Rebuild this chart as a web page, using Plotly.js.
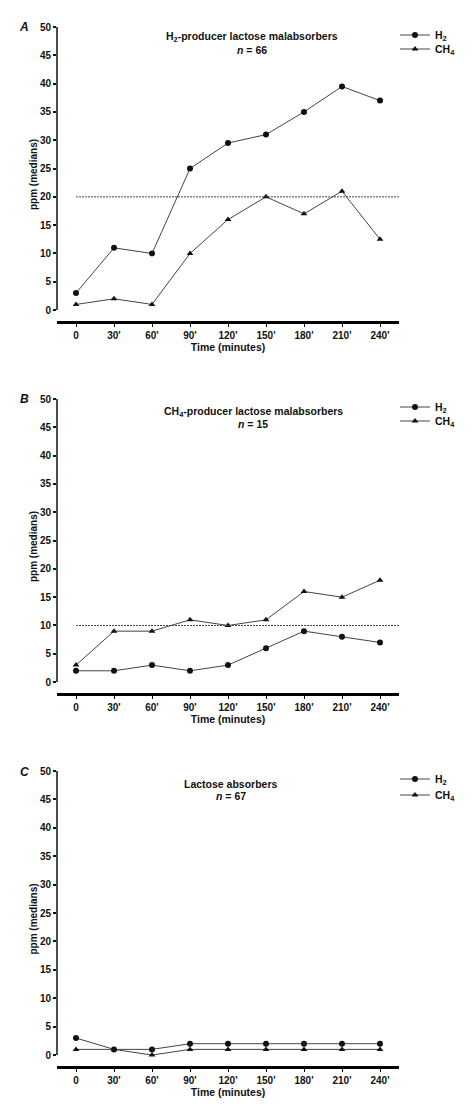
<!DOCTYPE html>
<html>
<head>
<meta charset="utf-8">
<script src="https://cdn.plot.ly/plotly-3.0.1.min.js"></script>
<style>
  html, body { margin: 0; padding: 0; background: #fff; }
  #chart { width: 474px; height: 1117px; }
</style>
</head>
<body>
<div id="chart"></div>
<script>
// time points (x categories)
var times = ['0', "30'", "60'", "90'", "120'", "150'", "180'", "210'", "240'"];

// A: H2-producer lactose malabsorbers
var aH2  = [3, 11, 10, 25, 29.5, 31, 35, 39.5, 37];
var aCH4 = [1, 2, 1, 10, 16, 20, 17, 21, 12.5];
var aCut = 20;

// B: CH4-producer lactose malabsorbers
var bH2  = [2, 2, 3, 2, 3, 6, 9, 8, 7];
var bCH4 = [3, 9, 9, 11, 10, 11, 16, 15, 18];
var bCut = 10;

// C: lactose absorbers
var cH2  = [3, 1, 1, 2, 2, 2, 2, 2, 2];
var cCH4 = [1, 1, 0, 1, 1, 1, 1, 1, 1];

var font = 'Liberation Sans, Arial, sans-serif';
var ink = '#111111';

function series(y, name, sym, n, leg) {
  return {
    x: times, y: y, name: name, type: 'scatter', mode: 'lines+markers',
    xaxis: 'x' + n, yaxis: 'y' + n, legend: leg,
    line: {color: '#444', width: 1},
    marker: {color: ink, size: 6, symbol: sym}
  };
}

var data = [
  series(aH2, 'H<sub>2</sub>', 'circle', '', 'legend'),
  series(aCH4, 'CH<sub>4</sub>', 'triangle-up', '', 'legend2'),
  series(bH2, 'H<sub>2</sub>', 'circle', '2', 'legend3'),
  series(bCH4, 'CH<sub>4</sub>', 'triangle-up', '2', 'legend4'),
  series(cH2, 'H<sub>2</sub>', 'circle', '3', 'legend5'),
  series(cCH4, 'CH<sub>4</sub>', 'triangle-up', '3', 'legend6')
];

var H = 1117, W = 474;
function py(p) { return 1 - p / H; }

function xax(anchor) {
  return {
    domain: [57 / W, 399 / W], anchor: anchor, type: 'category',
    range: [-0.5, 8.5], showgrid: false, zeroline: false,
    showline: true, linecolor: 'black', linewidth: 2,
    ticks: 'outside', ticklen: 3, tickwidth: 1, tickcolor: 'black',
    tickfont: {family: font, size: 10, color: ink, weight: 'bold'},
    title: {text: '<b>Time (minutes)</b>', standoff: 4,
            font: {family: font, size: 10.5, color: ink}}
  };
}
function yax(top, bottom, anchor) {
  return {
    domain: [py(bottom), py(top)], anchor: anchor,
    range: [-2.1, 50], tickvals: [0, 5, 10, 15, 20, 25, 30, 35, 40, 45, 50],
    showgrid: false, zeroline: false, showline: false,
    ticks: 'outside', ticklen: 3, tickwidth: 1.5, tickcolor: ink,
    tickfont: {family: font, size: 10, color: ink, weight: 'bold'},
    title: {text: '<b>ppm (medians)</b>', standoff: 0,
            font: {family: font, size: 10, color: ink}}
  };
}

// y axis line stops at 0, x axis line sits a little lower
function yline(n) {
  return {type: 'line', xref: 'x' + n + ' domain', yref: 'y' + n,
          x0: 0, x1: 0, y0: 0, y1: 50, line: {color: ink, width: 1.5}};
}
function xline(n) {
  return {type: 'line', xref: 'x' + n + ' domain', yref: 'y' + n + ' domain',
          x0: 0, x1: 1, y0: 0, y1: 0, line: {color: 'black', width: 2}};
}
function cut(n, v) {
  return {type: 'line', xref: 'x' + n, yref: 'y' + n,
          x0: 0, x1: 8.5, y0: v, y1: v, line: {color: '#444', width: 1, dash: '2px,1px'}};
}

function ann(x, y, text, size) {
  return {xref: 'paper', yref: 'paper', x: x / W, y: py(y), text: text,
          showarrow: false, xanchor: 'center', yanchor: 'middle',
          font: {family: font, size: size, color: ink}};
}

function leg(mid) {
  return {x: 395 / W, y: py(mid), xanchor: 'left', yanchor: 'middle',
          bgcolor: 'rgba(0,0,0,0)', itemwidth: 30, tracegroupgap: 0,
          font: {family: font, size: 10.5, color: ink, weight: 'bold'}};
}

var layout = {
  width: W, height: H,
  margin: {l: 0, r: 0, t: 0, b: 0},
  paper_bgcolor: '#fff',
  showlegend: true,
  xaxis: xax('y'),
  yaxis: yax(27, 322, 'x'),
  xaxis2: xax('y2'),
  yaxis2: yax(399, 694, 'x2'),
  xaxis3: xax('y3'),
  yaxis3: yax(771, 1067, 'x3'),
  legend: leg(35),
  legend2: leg(49),
  legend3: leg(407),
  legend4: leg(421),
  legend5: leg(779),
  legend6: leg(795),
  shapes: [yline(''), yline('2'), yline('3'), xline(''), xline('2'), xline('3'),
           cut('', aCut), cut('2', bCut)],
  annotations: [
    ann(24, 27, '<b><i>A</i></b>', 12),
    ann(24, 399, '<b><i>B</i></b>', 12),
    ann(24, 772, '<b><i>C</i></b>', 12),
    ann(252, 37, '<b>H<sub>2</sub>-producer lactose malabsorbers</b>', 10.5),
    ann(252, 50, '<b><i>n</i> = 66</b>', 10.5),
    ann(253, 412, '<b>CH<sub>4</sub>-producer lactose malabsorbers</b>', 10.5),
    ann(253, 424, '<b><i>n</i> = 15</b>', 10.5),
    ann(231, 784, '<b>Lactose absorbers</b>', 10.5),
    ann(231, 796, '<b><i>n</i> = 67</b>', 10.5)
  ]
};

Plotly.newPlot('chart', data, layout, {displayModeBar: false});
</script>
</body>
</html>
